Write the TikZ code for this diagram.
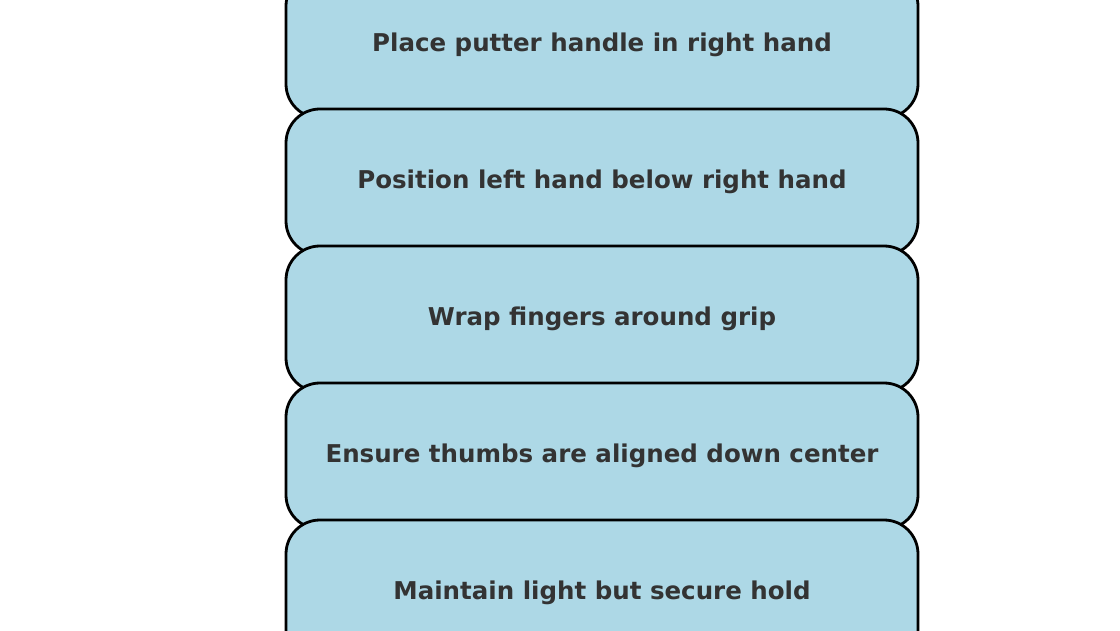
\documentclass[tikz,border=0pt]{standalone}
\usepackage{fontspec}
\setmainfont{DejaVu Sans}
\definecolor{boxfill}{HTML}{ADD8E6}
\definecolor{txt}{HTML}{333333}
\begin{document}
\begin{tikzpicture}[x=1pt,y=1pt,
  stepbox/.style={draw=black, line width=2.8pt, fill=boxfill, rounded corners=34pt,
    minimum width=632pt, minimum height=146pt, inner sep=0pt,
    text=txt, font=\fontsize{24.5}{29}\selectfont\bfseries}]
\useasboundingbox (0,0) rectangle (1120,630);
\clip (0,0) rectangle (1120,630);
\node[stepbox] (s1) at (602,630-45) {Place putter handle in right hand};
\node[stepbox] (s2) at (602,630-182) {Position left hand below right hand};
\node[stepbox] (s3) at (602,630-319) {Wrap fingers around grip};
\node[stepbox] (s4) at (602,630-456) {Ensure thumbs are aligned down center};
\node[stepbox] (s5) at (602,630-593) {Maintain light but secure hold};
\end{tikzpicture}
\end{document}
